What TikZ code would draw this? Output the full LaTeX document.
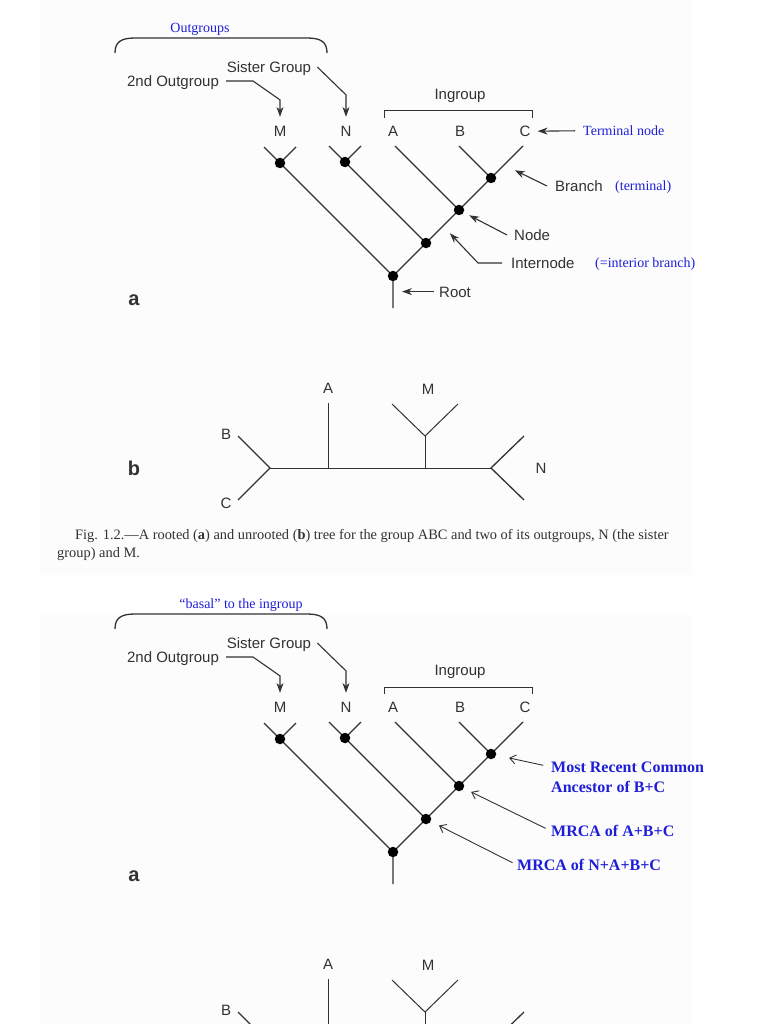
\documentclass[tikz,border=0pt]{standalone}
\usepackage{fontspec}
\setmainfont{Liberation Serif}
\setsansfont{Liberation Sans}
\usetikzlibrary{arrows.meta}
\definecolor{ln}{RGB}{50,50,50}
\definecolor{bl}{RGB}{30,30,215}
\definecolor{pg}{RGB}{252,252,252}
\tikzset{
  lab/.style={font=\sffamily\fontsize{15}{15}\selectfont, text=ln, inner sep=0pt},
  blab/.style={font=\fontsize{14}{14}\selectfont, text=bl, inner sep=0pt},
  bbold/.style={font=\bfseries\fontsize{16}{16}\selectfont, text=bl, inner sep=0pt},
  captext/.style={font=\fontsize{14.4}{14.4}\selectfont, text=ln, inner sep=0pt},
  panel/.style={font=\sffamily\bfseries\fontsize{20}{20}\selectfont, text=ln, inner sep=0pt},
  br/.style={draw=ln, line width=1.3pt},
  thinbr/.style={draw=ln, line width=1pt},
  dot/.style={circle, fill=black, inner sep=0pt, minimum size=10.5pt},
  arr/.style={draw=ln, line width=1.1pt, -{Stealth[length=10pt,width=7pt]}},
  barb/.style={draw=ln, line width=0.9pt, -{Straight Barb[length=6pt,width=9pt]}},
  rooted/.pic={
    \draw[br] (115,53) .. controls (115,42) and (121,38) .. (135,38) -- (307,38) .. controls (321,38) and (327,42) .. (327,53);
    \node[lab, anchor=base] (-sis) at (269,72.4) {Sister Group};
    \node[lab, anchor=base] (-sec) at (173,86.4) {2nd Outgroup};
    \node[lab, anchor=base] (-Ing) at (460,99.4) {Ingroup};
    \node[lab, anchor=base] (-M) at (280,136.4) {M};
    \node[lab, anchor=base] (-N) at (346,136.4) {N};
    \node[lab, anchor=base] (-A) at (393,136.4) {A};
    \node[lab, anchor=base] (-B) at (460,136.4) {B};
    \node[lab, anchor=base] (-C) at (525,136.4) {C};
    \draw[thinbr] (384,118) -- (384,111) -- (532,111) -- (532,118);
    \coordinate (-st) at (393,308);
    \coordinate (-r) at (393,276);
    \coordinate (-n1) at (426,243);
    \coordinate (-n2) at (459,210);
    \coordinate (-n3) at (491,178);
    \coordinate (-Ct) at (523,146);
    \coordinate (-Bt) at (459,146);
    \coordinate (-At) at (395,146);
    \coordinate (-Nd) at (345,162);
    \coordinate (-Nl) at (329,146);
    \coordinate (-Nr) at (361,146);
    \coordinate (-Md) at (280,163);
    \coordinate (-Ml) at (264,147);
    \coordinate (-Mr) at (296,147);
    \coordinate (-cb) at (504,165);
    \coordinate (-mid) at (443,226);
    \coordinate (-sr) at (393,291.6);
    \draw[br] (-st) -- (-r) -- (-Ct);
    \draw[br] (-r) -- (-Md);
    \draw[br] (-n1) -- (-Nd);
    \draw[br] (-n2) -- (-At);
    \draw[br] (-n3) -- (-Bt);
    \draw[br] (-Ml) -- (-Md) -- (-Mr);
    \draw[br] (-Nl) -- (-Nd) -- (-Nr);
    \node[dot] (-dr) at (-r) {};
    \node[dot] (-d1) at (-n1) {};
    \node[dot] (-d2) at (-n2) {};
    \node[dot] (-d3) at (-n3) {};
    \node[dot] (-dM) at (-Md) {};
    \node[dot] (-dN) at (-Nd) {};
    \draw[arr] ([xshift=7pt,yshift=5.4pt]-sec.base east) -- (253,81) -- ([yshift=26pt]-M.north) -- ([yshift=9pt]-M.north);
    \draw[arr] ([xshift=6pt,yshift=5.4pt]-sis.base east) -- ([yshift=31pt]-N.north) -- ([yshift=9pt]-N.north);
    \node[panel, anchor=base] (-pa) at (134,305.5) {a};
  },
  unrooted/.pic={
    \node[lab, anchor=base] (-A) at (328,393.4) {A};
    \node[lab, anchor=base] (-M) at (428,394.4) {M};
    \node[lab, anchor=base] (-B) at (226,439.4) {B};
    \coordinate (-j1) at (270,468);
    \coordinate (-j2) at (328,468);
    \coordinate (-j3) at (425,468);
    \coordinate (-j4) at (491,468);
    \coordinate (-At) at (328,403);
    \coordinate (-Mj) at (425,436);
    \coordinate (-Ml) at (392,404);
    \coordinate (-Mr) at (458,404);
    \coordinate (-Bt) at (238,436);
    \coordinate (-Ct) at (238,500);
    \coordinate (-Nu) at (524,436);
    \coordinate (-Nw) at (524,500);
    \draw[thinbr] (-j1) -- (-j4);
    \draw[thinbr] (-j2) -- (-At);
    \draw[thinbr] (-j3) -- (-Mj);
    \draw[thinbr] (-Ml) -- (-Mj) -- (-Mr);
    \draw[br] (-Bt) -- (-j1) -- (-Ct);
    \draw[br] (-Nu) -- (-j4) -- (-Nw);
  }
}
\begin{document}
\begin{tikzpicture}[x=1pt,y=-1pt]
\useasboundingbox (0,0) rectangle (768,1024);
\clip (0,0) rectangle (768,1024);
\fill[white] (0,0) rectangle (768,1024);
\fill[pg] (40,0) rectangle (692,575);
\fill[pg] (40,615) rectangle (692,1024);

% ---------- upper figure ----------
\pic (t) at (0,0) {rooted};
\pic (u) at (0,0) {unrooted};
\node[lab, anchor=base] (uC) at (226,508.4) {C};
\node[lab, anchor=base] (uN) at (541,473.4) {N};
\node[panel, anchor=base] (pb) at (134,475) {b};
\node[blab, anchor=base] (og) at (200,32.5) {Outgroups};
\node[blab, anchor=base west] (tn) at (583,135.5) {Terminal node};
\draw[arr, shorten <=8pt, shorten >=7pt] (tn.west) -- (t-C.east);
\node[lab, anchor=base west] (brn) at (555,191.4) {Branch};
\node[blab, anchor=base west] (brt) at (615,191) {(terminal)};
\draw[arr, shorten >=12pt] ([xshift=-8pt,yshift=5.4pt]brn.base west) -- (t-cb);
\node[lab, anchor=base west] (ndl) at (514,240.4) {Node};
\draw[arr, shorten >=6pt] ([xshift=-7pt,yshift=5.4pt]ndl.base west) -- (t-d2);
\node[lab, anchor=base west] (inl) at (511,268.4) {Internode};
\node[blab, anchor=base west] (inb) at (595,267.5) {(=interior branch)};
\draw[arr, shorten >=10pt] ([xshift=-9pt,yshift=5.4pt]inl.base west) -- ++(-24,0) -- (t-mid);
\node[lab, anchor=base west] (rtl) at (439,297) {Root};
\draw[arr, shorten >=9pt] ([xshift=-5pt,yshift=5.4pt]rtl.base west) -- (t-sr);
\node[captext, anchor=base west] (cp1) at (75,539.5) {Fig. 1.2.---A rooted (\textbf{a}) and unrooted (\textbf{b}) tree for the group ABC and two of its outgroups, N (the sister};
\node[captext, anchor=base west] (cp2) at (57,557) {group) and M.};

% ---------- lower figure ----------
\pic (b) at (0,576) {rooted};
\pic (v) at (0,576) {unrooted};
\node[blab, anchor=base] (bas) at (241,608.5) {“basal” to the ingroup};
\node[bbold, anchor=west] (m1) at (551,767) {Most Recent Common};
\node[bbold, anchor=west] (m2) at (551,787) {Ancestor of B+C};
\node[bbold, anchor=west] (m3) at (551,831) {MRCA of A+B+C};
\node[bbold, anchor=west] (m4) at (517,865) {MRCA of N+A+B+C};
\draw[barb, shorten <=8pt, shorten >=13pt] (m1.west) -- (b-d3);
\draw[barb, shorten <=6pt, shorten >=8pt] (m3.west) -- (b-d2);
\draw[barb, shorten <=5pt, shorten >=9pt] (m4.west) -- (b-d1);
\end{tikzpicture}
\end{document}
